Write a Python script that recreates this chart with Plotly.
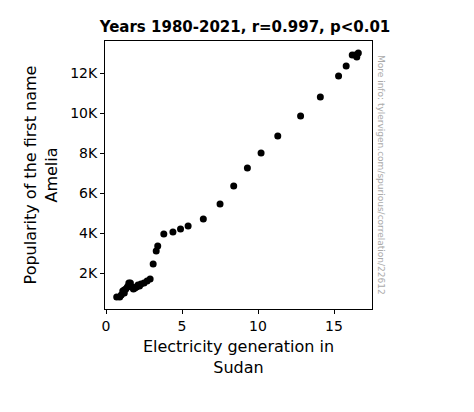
import plotly.graph_objects as go

elec = [0.7,0.9,1.0,1.1,1.2,1.3,1.4,1.5,1.6,1.7,1.8,1.9,2.0,2.1,2.3,2.5,2.7,2.9,3.1,3.3,3.4,3.8,4.4,4.9,5.4,6.4,7.5,8.4,9.3,10.2,11.3,12.8,14.1,15.3,15.8,16.2,16.4,16.5,16.6,1.5,1.2,2.2]
amelia = [800,800,900,1100,1000,1200,1300,1500,1500,1300,1200,1250,1300,1400,1450,1500,1600,1700,2450,3100,3350,3950,4050,4200,4350,4700,5450,6350,7250,8000,8850,9850,10800,11850,12350,12900,12900,12800,13000,1400,1150,1350]
xticks = [0,5,10,15]
yticks = [2000,4000,6000,8000,10000,12000]
ylabels = ["2K","4K","6K","8K","10K","12K"]

fig = go.Figure(go.Scatter(x=elec, y=amelia, mode="markers",
                           marker=dict(color="black", size=7)))
ax = dict(showgrid=False, zeroline=False, showline=True, linecolor="black", mirror=True,
          ticks="outside", ticklen=4, tickcolor="black", tickfont=dict(size=14, color="black"))
fig.update_layout(
    width=474, height=412, plot_bgcolor="white", paper_bgcolor="white",
    margin=dict(l=97, r=110, t=33, b=111), showlegend=False,
    font=dict(family="DejaVu Sans", color="black"),
    title=dict(text="<b>Years 1980-2021, r=0.997, p<0.01</b>", x=0.5, xanchor="center",
               y=0.955, yanchor="middle", font=dict(size=15)),
    xaxis=dict(ax, range=[-0.07, 17.5], tickvals=xticks,
               title=dict(text="Electricity generation in<br>Sudan", font=dict(size=16), standoff=8)),
    yaxis=dict(ax, range=[200, 13600], tickvals=yticks, ticktext=ylabels,
               title=dict(text="Popularity of the first name<br>Amelia", font=dict(size=16), standoff=8)),
    annotations=[dict(text="More info: tylervigen.com/spurious/correlation/22612", textangle=90,
                      x=1.06, y=0.5, xref="paper", yref="paper", showarrow=False,
                      font=dict(size=9, color="#aaaaaa"))],
)
fig.write_html("out.html")
